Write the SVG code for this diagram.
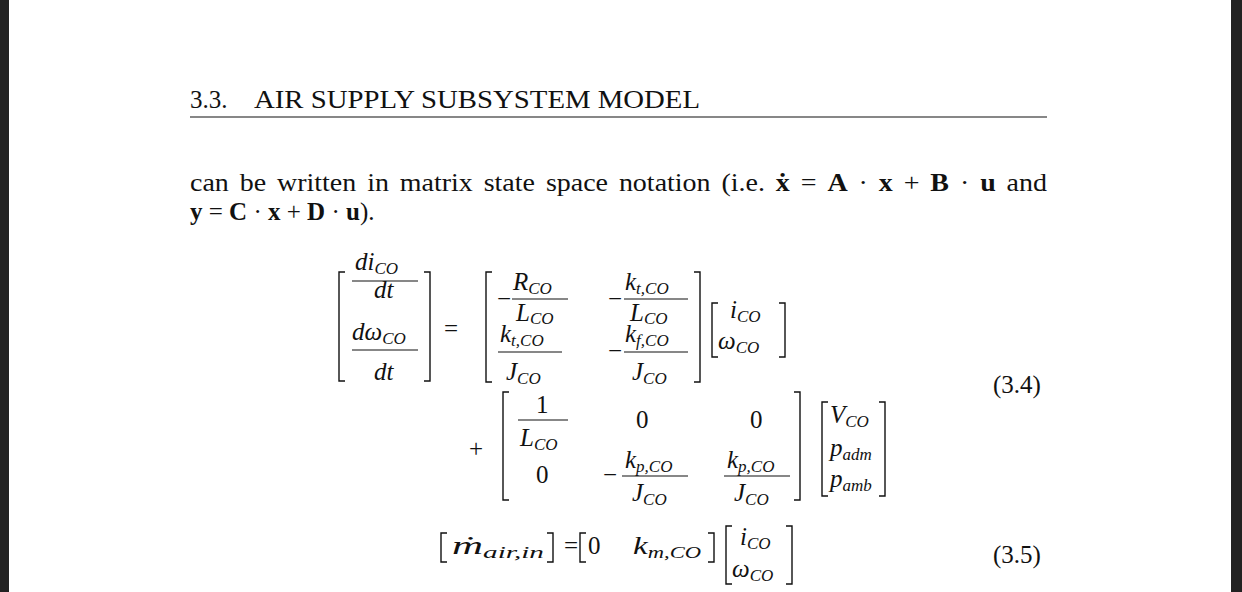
<svg xmlns="http://www.w3.org/2000/svg" width="1242" height="592" viewBox="0 0 1242 592">
<style>
text{font-family:"Liberation Serif","DejaVu Serif",serif;fill:#111;font-size:25px}
.i{font-style:italic}
.s{font-size:17px;font-style:italic}
.b{font-weight:bold}
.br{fill:none;stroke:#111;stroke-width:1.4}
.fl{stroke:#111;stroke-width:1.2}
</style>
<rect width="1242" height="592" fill="#fff"/>
<rect x="0" y="0" width="9" height="592" fill="#222"/>
<rect x="1231" y="0" width="11" height="592" fill="#222"/>
<text x="190" y="108" font-size="22">3.3.</text>
<text x="254" y="108" font-size="22" textLength="446" lengthAdjust="spacingAndGlyphs">AIR SUPPLY SUBSYSTEM MODEL</text>
<line x1="190" y1="117" x2="1047" y2="117" class="fl"/>
<text x="190" y="191" word-spacing="3.5" textLength="857" lengthAdjust="spacingAndGlyphs">can be written in matrix state space notation (i.e. <tspan class="b">ẋ</tspan> = <tspan class="b">A</tspan> · <tspan class="b">x</tspan> + <tspan class="b">B</tspan> · <tspan class="b">u</tspan> and</text>
<text x="190" y="220"><tspan class="b">y</tspan> = <tspan class="b">C</tspan> · <tspan class="b">x</tspan> + <tspan class="b">D</tspan> · <tspan class="b">u</tspan>).</text>

<!-- left vector -->
<path class="br" d="M345 272H339V381H345M424 272H430V381H424"/>
<text x="355" y="270" class="i">di<tspan class="s" dy="4">CO</tspan></text>
<line x1="352" y1="281" x2="418" y2="281" class="fl"/>
<text x="374" y="298" class="i">dt</text>
<text x="352" y="340" class="i">dω<tspan class="s" dy="4">CO</tspan></text>
<line x1="352" y1="350" x2="418" y2="350" class="fl"/>
<text x="374" y="380" class="i">dt</text>
<text x="444" y="337">=</text>

<!-- A matrix -->
<path class="br" d="M492 272H486V382H492M694 272H700V382H694"/>
<text x="497" y="307">−</text>
<text x="513" y="290" class="i">R<tspan class="s" dy="4">CO</tspan></text>
<line x1="512" y1="299" x2="568" y2="299" class="fl"/>
<text x="516" y="321" class="i">L<tspan class="s" dy="3">CO</tspan></text>
<text x="608" y="307">−</text>
<text x="625" y="290" class="i">k<tspan class="s" dy="4">t,CO</tspan></text>
<line x1="624" y1="299" x2="688" y2="299" class="fl"/>
<text x="630" y="321" class="i">L<tspan class="s" dy="3">CO</tspan></text>
<text x="500" y="342" class="i">k<tspan class="s" dy="4">t,CO</tspan></text>
<line x1="498" y1="352" x2="562" y2="352" class="fl"/>
<text x="506" y="380" class="i">J<tspan class="s" dy="4">CO</tspan></text>
<text x="608" y="359">−</text>
<text x="625" y="342" class="i">k<tspan class="s" dy="4">f,CO</tspan></text>
<line x1="624" y1="352" x2="688" y2="352" class="fl"/>
<text x="632" y="380" class="i">J<tspan class="s" dy="4">CO</tspan></text>

<path class="br" d="M718 303H712V357H718M779 303H785V357H779"/>
<text x="730" y="318" class="i">i<tspan class="s" dy="4">CO</tspan></text>
<text x="718" y="349" class="i">ω<tspan class="s" dy="4">CO</tspan></text>
<text x="993" y="393">(3.4)</text>

<!-- B matrix -->
<text x="469" y="457">+</text>
<path class="br" d="M509 392H503V500H509M794 392H800V500H794"/>
<text x="536" y="413">1</text>
<line x1="518" y1="420" x2="568" y2="420" class="fl"/>
<text x="520" y="446" class="i">L<tspan class="s" dy="4">CO</tspan></text>
<text x="636" y="428">0</text>
<text x="750" y="428">0</text>
<text x="536" y="483">0</text>
<text x="603" y="483">−</text>
<text x="625" y="468" class="i">k<tspan class="s" dy="4">p,CO</tspan></text>
<line x1="622" y1="476" x2="688" y2="476" class="fl"/>
<text x="632" y="501" class="i">J<tspan class="s" dy="4">CO</tspan></text>
<text x="727" y="468" class="i">k<tspan class="s" dy="4">p,CO</tspan></text>
<line x1="724" y1="476" x2="790" y2="476" class="fl"/>
<text x="734" y="501" class="i">J<tspan class="s" dy="4">CO</tspan></text>

<path class="br" d="M828 402H822V496H828M879 402H885V496H879"/>
<text x="830" y="423" class="i">V<tspan class="s" dy="4">CO</tspan></text>
<text x="830" y="456" class="i">p<tspan class="s" dy="4">adm</tspan></text>
<text x="830" y="487" class="i">p<tspan class="s" dy="4">amb</tspan></text>

<!-- eq 3.5 -->
<path class="br" d="M447 533H441V562H447M547 533H553V562H547"/>
<text x="452" y="554" class="i" textLength="92" lengthAdjust="spacingAndGlyphs">ṁ<tspan class="s" dy="4">air,in</tspan></text>
<text x="564" y="554">=</text>
<path class="br" d="M586 533H580V562H586M708 533H714V562H708"/>
<text x="588" y="554">0</text>
<text x="633" y="554" class="i" textLength="68" lengthAdjust="spacingAndGlyphs">k<tspan class="s" dy="4">m,CO</tspan></text>
<path class="br" d="M732 526H726V584H732M786 526H792V584H786"/>
<text x="740" y="545" class="i">i<tspan class="s" dy="4">CO</tspan></text>
<text x="732" y="577" class="i">ω<tspan class="s" dy="4">CO</tspan></text>
<text x="993" y="563">(3.5)</text>
</svg>
